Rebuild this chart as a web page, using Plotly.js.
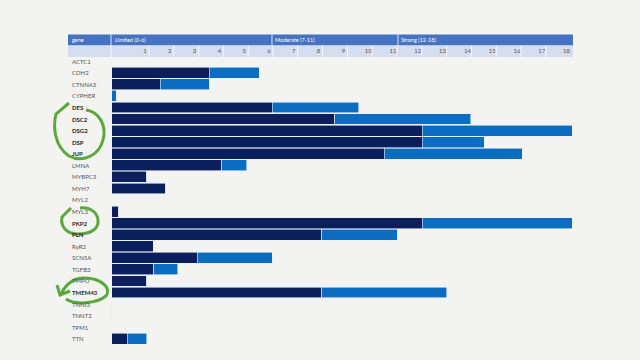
<!DOCTYPE html>
<html><head><meta charset="utf-8">
<script src="https://cdn.plot.ly/plotly-3.0.1.min.js"></script>
<style>html,body{margin:0;padding:0;background:#f3f3f1;}#chart{width:640px;height:360px;}</style>
</head><body><div id="chart"></div>
<script>
// ---- data ----
const genes = ["ACTC1","CDH2","CTNNA3","CYPHER","DES","DSC2","DSG2","DSP","JUP","LMNA","MYBPC3","MYH7","MYL2","MYL3","PKP2","PLN","RyR2","SCN5A","TGFB3","TMPO","TMEM43","TNNI3","TNNT2","TPM1","TTN"];
const geneticScore = [0,3.81,1.89,0,6.27,8.73,12.14,12.14,10.65,4.31,1.38,2.12,0,0.28,12.14,8.22,1.62,3.34,1.65,1.38,8.22,0,0,0,0.60];
const experimentalScore = [0,1.95,1.92,0.17,3.40,5.32,5.86,2.42,5.40,0.98,0,0,0,0,5.86,2.94,0,2.93,0.94,0,4.89,0,0,0,0.78];
const boldGenes = ["DES","DSC2","DSG2","DSP","JUP","PKP2","PLN","TMEM43"];
const scaleTicks = [1,2,3,4,5,6,7,8,9,10,11,12,13,14,15,16,17,18];
const headerGene = "gene";
const bandLabels = ["Limited (0-6)","Moderate (7-11)","Strong (12-18)"];
const bandStarts = [-0.34,6.12,11.2];   // in header-scale units (cell start)

// ---- geometry helpers (pixels -> paper) ----
const W=640,H=360;
const px=x=>x/W, py=y=>1-y/H;
const P=(x,y)=>`${px(x).toFixed(4)},${py(y).toFixed(4)}`;
const xDom=[px(111.7),px(572)];
const headerRange=[(111.7-120.2)/24.8,(572-120.2)/24.8];
const h2x = v => 111.7 + (v-headerRange[0])/(headerRange[1]-headerRange[0])*(572-111.7);

const dark='#0c1f5d', light='#0b6dc1';
const traces=[
 {type:'bar',orientation:'h',y:genes,x:geneticScore,marker:{color:dark,line:{color:'#e8ecf4',width:0.6}},hoverinfo:'x+y'},
 {type:'bar',orientation:'h',y:genes,x:experimentalScore,marker:{color:light,line:{color:'#e8ecf4',width:0.6}},hoverinfo:'x+y'},
 {type:'scatter',mode:'markers',x:scaleTicks,y:scaleTicks.map(()=>null),xaxis:'x2',yaxis:'y',showlegend:false,hoverinfo:'skip'}
];

const shapes=[];
const ann=[];
// header rows
shapes.push({type:'rect',xref:'paper',yref:'paper',x0:px(68),x1:px(573),y0:py(45.5),y1:py(34.5),fillcolor:'#4672c2',line:{width:0},layer:'below'});
shapes.push({type:'rect',xref:'paper',yref:'paper',x0:px(68),x1:px(573),y0:py(57),y1:py(45.5),fillcolor:'#d5def0',line:{width:0},layer:'below'});
// header separators row1
[111, ...bandStarts.slice(1).map(s=>h2x(s))].forEach(xx=>{
  shapes.push({type:'line',xref:'paper',yref:'paper',x0:px(xx),x1:px(xx),y0:py(45.5),y1:py(34.5),line:{color:'#ffffff',width:0.8}});
});
// header separators row2
shapes.push({type:'line',xref:'paper',yref:'paper',x0:px(111),x1:px(111),y0:py(57),y1:py(45.5),line:{color:'#ffffff',width:0.8}});
scaleTicks.slice(0,-1).forEach(t=>{
  shapes.push({type:'line',xref:'paper',yref:'paper',x0:px(h2x(t+0.16)),x1:px(h2x(t+0.16)),y0:py(57),y1:py(45.5),line:{color:'#ffffff',width:0.8}});
});
ann.push({xref:'paper',yref:'paper',x:px(70),y:py(40),xanchor:'left',yanchor:'middle',text:headerGene,showarrow:false,font:{family:'Lato',size:5.5,color:'#ffffff'}});
bandLabels.forEach((b,i)=>{
  ann.push({xref:'paper',yref:'paper',x:px(h2x(bandStarts[i])+1.5),y:py(40),xanchor:'left',yanchor:'middle',text:b,showarrow:false,font:{family:'Lato',size:5.5,color:'#ffffff'}});
});
// gene labels
genes.forEach(g=>{
  const b=boldGenes.includes(g);
  ann.push({xref:'paper',yref:'y',x:px(70),y:g,xanchor:'left',yanchor:'middle',showarrow:false,
    text:b?`<b>${g}</b>`:g,font:{family:'Lato',size:6,color:b?'#2a2a2a':'#555555'}});
});
// hand-drawn green circles
const green={color:'#5ba83a',width:3};
shapes.push({type:'path',xref:'paper',yref:'paper',line:green,
  path:`M${P(69,103)} L${P(56,114)} C${P(53,126)} ${P(54,146)} ${P(69,156)} C${P(82,163)} ${P(99,156)} ${P(103,140)} C${P(107,125)} ${P(99,112)} ${P(86,110)}`});
shapes.push({type:'path',xref:'paper',yref:'paper',line:green,
  path:`M${P(71,208)} L${P(62,217)} C${P(60,227)} ${P(67,234)} ${P(78,234)} C${P(92,234)} ${P(99,228)} ${P(98,220)} C${P(97,212)} ${P(90,207)} ${P(80,208)}`});
shapes.push({type:'path',xref:'paper',yref:'paper',line:green,
  path:`M${P(66,299)} C${P(74,305)} ${P(97,304)} ${P(106,296)} C${P(112,288)} ${P(101,278)} ${P(84,278)} C${P(74,278)} ${P(66,284)} ${P(61,294)}`});
shapes.push({type:'path',xref:'paper',yref:'paper',line:green,
  path:`M${P(57,285)} L${P(60,295)} L${P(70,291)}`});

const layout={
  width:W,height:H,margin:{l:0,r:0,t:0,b:0},
  paper_bgcolor:'#f3f3f1',plot_bgcolor:'rgba(0,0,0,0)',
  showlegend:false,barmode:'stack',bargap:0.06,
  xaxis:{domain:xDom,range:[0,18],showgrid:false,zeroline:false,showticklabels:false,showline:false,fixedrange:true},
  xaxis2:{domain:xDom,range:headerRange,overlaying:'x',side:'top',anchor:'free',position:py(54.5),
    tickvals:scaleTicks,ticktext:scaleTicks.map(String),ticks:'',showgrid:false,zeroline:false,showline:false,
    tickfont:{family:'Lato',size:6,color:'#555555'}},
  yaxis:{domain:[py(344.6),py(55.4)],type:'category',categoryorder:'array',categoryarray:genes,autorange:'reversed',
    showticklabels:false,showgrid:false,zeroline:false,showline:false},
  shapes:shapes,annotations:ann
};
Plotly.newPlot('chart',traces,layout,{staticPlot:true,displayModeBar:false});
</script></body></html>
